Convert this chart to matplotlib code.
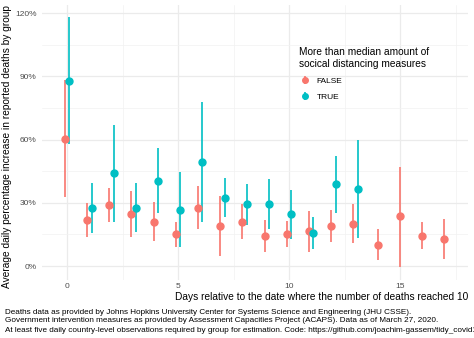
import numpy as np
import matplotlib
matplotlib.use("Agg")
import matplotlib.pyplot as plt
from matplotlib.ticker import FuncFormatter, MultipleLocator

plt.rcParams['font.family'] = ['Liberation Sans', 'DejaVu Sans']

# estimates and 95% intervals (percent) by day and group
days_false = list(range(18))
false_est = [60.3, 21.8, 28.9, 24.6, 21.0, 15.2, 27.6, 19.1, 21.0, 14.2,
             15.2, 16.4, 19.0, 19.9, 10.1, 23.7, 14.2, 12.7]
false_lo = [32.5, 13.9, 20.9, 13.9, 11.8, 9.2, 17.5, 4.7, 12.8, 6.8,
            8.9, 6.8, 11.4, 10.8, 2.8, -0.3, 7.9, 3.5]
false_hi = [88.0, 30.0, 37.0, 35.7, 30.5, 21.0, 38.0, 33.2, 29.2, 21.8,
            21.2, 26.1, 26.5, 29.2, 17.4, 47.1, 20.9, 22.1]

days_true = list(range(14))
true_est = [87.8, 27.6, 43.9, 27.6, 40.4, 26.5, 49.4, 32.4, 29.2, 29.4,
            24.5, 15.5, 38.7, 36.6]
true_lo = [57.8, 15.8, 20.9, 16.3, 25.0, 8.9, 21.0, 23.1, 19.4, 17.5,
           12.8, 7.9, 25.3, 13.1]
true_hi = [117.9, 39.5, 67.1, 39.2, 55.8, 44.4, 77.9, 41.6, 38.7, 41.1,
           36.0, 23.1, 52.3, 60.0]

groups = ["FALSE", "TRUE"]
colors = ["#F8766D", "#00BFC4"]

caption = [
    "Deaths data as provided by Johns Hopkins University Center for Systems Science and Engineering (JHU CSSE).",
    "Government intervention measures as provided by Assessment Capacities Project (ACAPS). Data as of March 27, 2020.",
    "At least five daily country-level observations required by group for estimation. Code: https://github.com/joachim-gassem/tidy_covid19",
]

W, H = 474, 338
fig = plt.figure(figsize=(W / 100, H / 100), dpi=100)
ax = fig.add_axes([42 / W, 1 - 279.5 / H, 426 / W, 274.5 / H])

both = set(days_false) & set(days_true)
series = [(days_false, false_est, false_lo, false_hi, -0.1),
          (days_true, true_est, true_lo, true_hi, 0.1)]
for (d, est, lo, hi, off), g, c in zip(series, groups, colors):
    x = np.array([di + (off if di in both else 0) for di in d])
    est = np.array(est) / 100
    lo = np.array(lo) / 100
    hi = np.array(hi) / 100
    ax.errorbar(x, est, yerr=[est - lo, hi - est], fmt='o', color=c,
                ms=5, elinewidth=1.2, capsize=0, label=g, zorder=3)

ax.set_xlim(-1.13, 18.06)
ax.set_ylim(-0.064, 1.238)
ax.xaxis.set_major_locator(MultipleLocator(5))
ax.xaxis.set_minor_locator(MultipleLocator(2.5))
ax.yaxis.set_major_locator(MultipleLocator(0.3))
ax.yaxis.set_minor_locator(MultipleLocator(0.15))
ax.yaxis.set_major_formatter(FuncFormatter(lambda v, p: f"{v * 100:.0f}%"))
ax.grid(which='major', color='#EBEBEB', lw=0.9)
ax.grid(which='minor', color='#F2F2F2', lw=0.5)
ax.set_axisbelow(True)
for s in ax.spines.values():
    s.set_visible(False)
ax.tick_params(which='both', length=0, labelsize=6, labelcolor='#4D4D4D')
ax.tick_params(axis='y', pad=4)
ax.tick_params(axis='x', pad=2.5)

fig.text(468 / W, 1 - 296.5 / H,
         "Days relative to the date where the number of deaths reached 10",
         ha='right', va='center', fontsize=7.3)
fig.text(7 / W, 1 - 147 / H,
         "Average daily percentage increase in reported deaths by group",
         rotation=90, ha='center', va='center', fontsize=7.3)
for i, line in enumerate(caption):
    fig.text(5 / W, 1 - (312 + 9 * i) / H, line, ha='left', va='center',
             fontsize=5.85)

leg = fig.legend(loc='upper left', bbox_to_anchor=(295 / W, 1 - 43 / H),
                 title="More than median amount of\nsocical distancing measures",
                 frameon=False, fontsize=6, title_fontsize=7.3,
                 alignment='left', borderpad=0, handlelength=1.4,
                 handletextpad=0.7, labelspacing=1.0, markerscale=0.8)
leg._legend_box.sep = 6

fig.savefig("out.png", dpi=100)
